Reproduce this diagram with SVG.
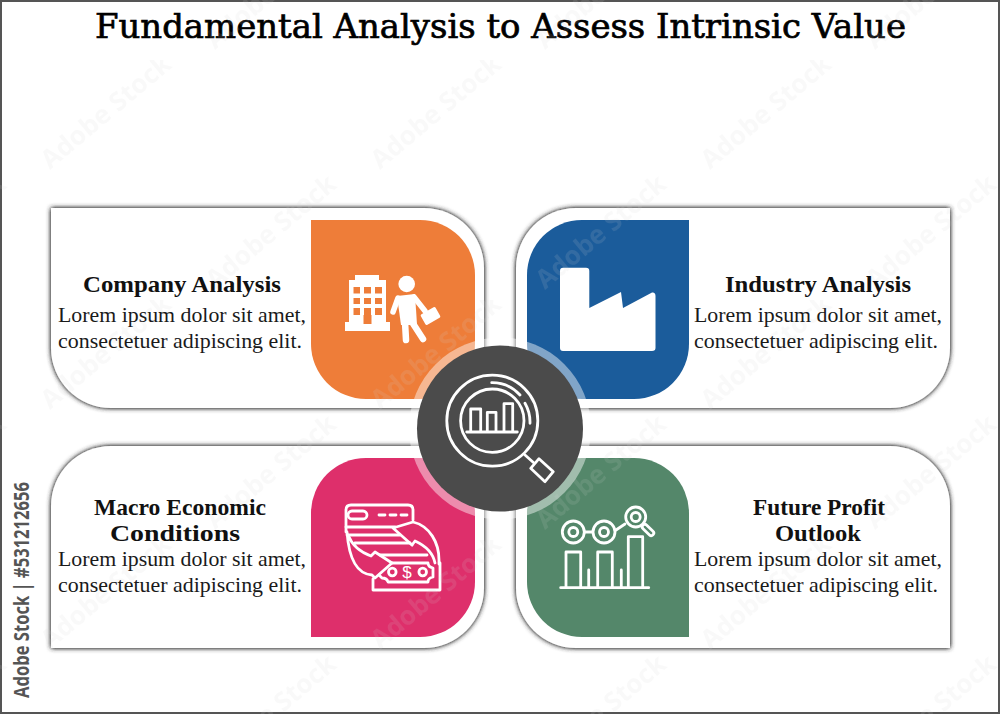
<svg xmlns="http://www.w3.org/2000/svg" width="1000" height="714" viewBox="0 0 1000 714">
<style>
.card{fill:#fff;filter:url(#sh)}
.title{font-family:"DejaVu Serif","Liberation Serif",serif;font-size:33px;fill:#000;stroke:#000;stroke-width:.7}
.h{font-family:"Liberation Serif",serif;font-weight:700;font-size:23px;fill:#111;text-anchor:middle}
.b{font-family:"Liberation Serif",serif;font-size:22px;fill:#1a1a1a}
.ln{fill:none;stroke:#fff;stroke-width:2.800;stroke-linejoin:round;stroke-linecap:round}
.wm{font-family:"Open Sans",sans-serif;font-weight:700;font-size:26px;fill:#cfcfcf;fill-opacity:.13}
</style>
<defs>
<filter id="sh" x="-5%" y="-5%" width="110%" height="110%">
<feGaussianBlur in="SourceAlpha" stdDeviation="2.800" result="b"/>
<feFlood flood-color="#333"/>
<feComposite in2="b" operator="in"/>
<feComponentTransfer result="d"><feFuncA type="linear" slope="1.500"/></feComponentTransfer>
<feMerge><feMergeNode in="d"/><feMergeNode in="SourceGraphic"/></feMerge>
</filter>
<pattern id="wmp" width="330" height="240" patternUnits="userSpaceOnUse" patternTransform="translate(20 60)">
<g class="wm"><text transform="translate(30 110) rotate(-40)">Adobe Stock</text><text transform="translate(195 230) rotate(-40)">Adobe Stock</text></g>
</pattern>
</defs>
<rect width="1000" height="714" fill="#fff"/>
<rect x="1" y="1" width="998" height="712" fill="none" stroke="#555" stroke-width="2"/>
<g id="cards">
<path class="card" d="M51 208H424A60 60 0 0 1 484 268V408H111A60 60 0 0 1 51 348Z"/>
<path class="card" d="M576 208H950V348A60 60 0 0 1 890 408H516V268A60 60 0 0 1 576 208Z"/>
<path class="card" d="M111 446H484V588A60 60 0 0 1 424 648H51V506A60 60 0 0 1 111 446Z"/>
<path class="card" d="M516 446H890A60 60 0 0 1 950 506V648H576A60 60 0 0 1 516 588Z"/>
</g>
<text class="title" x="95" y="38" textLength="811" lengthAdjust="spacingAndGlyphs">Fundamental Analysis to Assess Intrinsic Value</text>
<g id="company">
<path d="M311 220H420A55 55 0 0 1 475 275V344A55 55 0 0 1 420 399H366A55 55 0 0 1 311 344Z" fill="#ee7d39"/>
<g fill="#fff">
<path fill-rule="evenodd" d="M345 322H349V280H355V275H379V280H386V322H390V331H345ZM353.500 287V293.500H360V287ZM364 287V293.500H371V287ZM375 287V293.500H382V287ZM353.500 298V304H360V298ZM364 298V304H371V298ZM375 298V304H382V298ZM353.500 308V315H360V308ZM364 308V315H371V308ZM375 308V315H382V308ZM363.500 315V324H371.500V315Z"/>
<circle cx="406.700" cy="284" r="8.300"/>
<path d="M397 296L415 294L417 325L401 325Z"/>
<rect x="422" y="310" width="17" height="12" rx="1.500" transform="rotate(-30 430.500 316)"/>
</g>
<g fill="none" stroke="#fff" stroke-linecap="round">
<path d="M405 322L406 340M412 322L423 339" stroke-width="6.500"/>
<path d="M398 298L393 312M414 297L425 311" stroke-width="5.500"/>
</g>
</g>
<g id="industry">
<path d="M582 220H689V344A55 55 0 0 1 634 399H582A55 55 0 0 1 527 344V275A55 55 0 0 1 582 220Z" fill="#1b5c9b"/>
<path d="M563 267.700H586Q589.300 267.700 589.300 271V308L621 292L623 308L652 292.500Q655.500 292 655.500 296V348Q655.500 351 652 351H563Q560 351 560 348V271Q560 267.700 563 267.700Z" fill="#fff"/>
</g>
<g id="macro">
<path d="M366 458H420A55 55 0 0 1 475 513V582A55 55 0 0 1 420 637H311V513A55 55 0 0 1 366 458Z" fill="#de2f6b"/>
<g class="ln">
<path d="M413 520V510Q413 505 408 505H351Q346 505 346 510V532"/>
<path d="M346 527H395M347 535H400M355 543H410M380 555H427"/>
<rect x="348" y="511" width="19" height="8" rx="4"/>
<path d="M379 515H385M390 515H396M401 515H407"/>
<path d="M412 545L393 528L413 522C430 526 439 543 439 560V564"/>
<path d="M412 545L415 541C426 546 433 553 435 563"/>
<path d="M347 532C349 560 358 574 372 575L375 578L392 563L375 552L371 556C360 552 352 545 348 535"/>
<path d="M373 579V590H440V563"/>
<path d="M392 563H428Q428 567 433 568V577Q428 578 428 582H388Q387 578 382 578L379 575"/>
<circle cx="392.300" cy="572" r="3.800"/>
<circle cx="422.700" cy="572" r="3.800"/>
</g>
<text x="407" y="578" text-anchor="middle" font-family="Liberation Sans,sans-serif" font-size="17" fill="#fff">$</text>
</g>
<g id="future">
<path d="M582 458H634A55 55 0 0 1 689 513V637H582A55 55 0 0 1 527 582V513A55 55 0 0 1 582 458Z" fill="#54876a"/>
<g class="ln">
<path d="M560.700 587.700H648.700"/>
<path d="M566 587.700V552H580.700V587.700M597.700 587.700V552H612.300V587.700M628.300 587.700V536.700H642.700V587.700M588.700 587.700V570M621.300 587.700V570"/>
<circle cx="573.300" cy="532" r="11"/><circle cx="573.300" cy="532" r="4.500"/>
<circle cx="604" cy="532" r="11"/><circle cx="604" cy="532" r="4.500"/>
<circle cx="635.700" cy="517" r="10"/><circle cx="635.700" cy="517" r="4.500"/>
<path d="M585 532H592.700M616 530L625 524"/>
<rect x="641" y="527.500" width="14" height="5" rx="2.500" transform="rotate(44 648 530)"/>
</g>
</g>
<g id="hub">
<circle cx="500" cy="428.500" r="91" fill="#fff" fill-opacity=".45"/>
<circle cx="500" cy="428.500" r="83" fill="#4b4b4b"/>
<g class="ln" stroke-width="2.500">
<circle cx="492.300" cy="420.700" r="45.500"/>
<circle cx="492.300" cy="420.700" r="31.700"/>
<path d="M491.700 382.700A38 38 0 0 1 520 395M525 403.300A38 38 0 0 1 530 423.300"/>
<path d="M466.700 432H517.300M470.700 432V409H480.700V432M487.300 432V412.300H496V432M504 432V403.700H512.700V432"/>
<path d="M525 455L534 463"/>
<path d="M539 458.700L553.300 471.700L545 481.700L530.700 468.300Z"/>
</g>
</g>
<rect width="1000" height="714" fill="url(#wmp)"/>
<g id="labels">
<text class="h" x="182" y="292" textLength="198" lengthAdjust="spacingAndGlyphs">Company Analysis</text>
<text class="b" x="58" y="322" textLength="248" lengthAdjust="spacingAndGlyphs">Lorem ipsum dolor sit amet,</text>
<text class="b" x="58" y="348" textLength="244" lengthAdjust="spacingAndGlyphs">consectetuer adipiscing elit.</text>
<text class="h" x="818" y="292" textLength="186" lengthAdjust="spacingAndGlyphs">Industry Analysis</text>
<text class="b" x="694" y="322" textLength="248" lengthAdjust="spacingAndGlyphs">Lorem ipsum dolor sit amet,</text>
<text class="b" x="694" y="348" textLength="244" lengthAdjust="spacingAndGlyphs">consectetuer adipiscing elit.</text>
<text class="h" x="180" y="515" textLength="172" lengthAdjust="spacingAndGlyphs">Macro Economic</text>
<text class="h" x="175" y="541" textLength="130" lengthAdjust="spacingAndGlyphs">Conditions</text>
<text class="b" x="58" y="566" textLength="248" lengthAdjust="spacingAndGlyphs">Lorem ipsum dolor sit amet,</text>
<text class="b" x="58" y="592" textLength="244" lengthAdjust="spacingAndGlyphs">consectetuer adipiscing elit.</text>
<text class="h" x="819" y="515" textLength="132" lengthAdjust="spacingAndGlyphs">Future Profit</text>
<text class="h" x="818" y="541" textLength="86" lengthAdjust="spacingAndGlyphs">Outlook</text>
<text class="b" x="694" y="566" textLength="248" lengthAdjust="spacingAndGlyphs">Lorem ipsum dolor sit amet,</text>
<text class="b" x="694" y="592" textLength="244" lengthAdjust="spacingAndGlyphs">consectetuer adipiscing elit.</text>
</g>
<text transform="translate(29 698) rotate(-90)" font-family="Open Sans,sans-serif" font-weight="700" font-size="21" fill="#555" textLength="216" lengthAdjust="spacingAndGlyphs">Adobe Stock | #531212656</text>
</svg>
